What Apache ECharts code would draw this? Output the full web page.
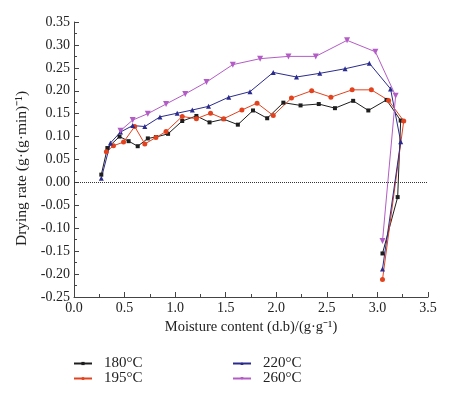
<!DOCTYPE html>
<html>
<head>
<meta charset="utf-8">
<script src="https://cdn.jsdelivr.net/npm/echarts@6/dist/echarts.min.js"></script>
<style>
  html, body { margin: 0; padding: 0; background: #fff; }
</style>
</head>
<body>
<div id="main" style="width: 474px;height: 399px;"></div>
<script>
// moisture content (x), drying rate (y), in the order the points are joined
var t180 = [[0.27,0.017],[0.33,0.075],[0.45,0.100],[0.54,0.090],[0.63,0.079],[0.73,0.096],[0.81,0.099],[0.93,0.106],[1.07,0.134],[1.21,0.145],[1.34,0.131],[1.48,0.138],[1.62,0.126],[1.77,0.157],[1.91,0.140],[2.07,0.174],[2.24,0.168],[2.42,0.171],[2.58,0.162],[2.76,0.178],[2.91,0.157],[3.09,0.180],[3.23,0.135],[3.20,-0.032],[3.05,-0.155]];
var t195 = [[0.32,0.067],[0.39,0.080],[0.49,0.088],[0.60,0.122],[0.70,0.084],[0.81,0.098],[0.91,0.111],[1.07,0.144],[1.21,0.139],[1.35,0.151],[1.48,0.139],[1.66,0.158],[1.81,0.173],[1.97,0.146],[2.15,0.184],[2.35,0.200],[2.54,0.186],[2.75,0.202],[2.94,0.202],[3.11,0.179],[3.26,0.134],[3.05,-0.212]];
var t220 = [[0.27,0.009],[0.36,0.086],[0.46,0.110],[0.58,0.124],[0.70,0.122],[0.85,0.143],[1.02,0.151],[1.17,0.158],[1.33,0.166],[1.53,0.186],[1.74,0.198],[1.97,0.240],[2.20,0.230],[2.43,0.238],[2.68,0.248],[2.92,0.260],[3.13,0.204],[3.23,0.089],[3.05,-0.189]];
var t260 = [[0.46,0.113],[0.58,0.136],[0.73,0.150],[0.91,0.171],[1.10,0.193],[1.31,0.219],[1.57,0.257],[1.84,0.270],[2.12,0.275],[2.39,0.275],[2.70,0.310],[2.98,0.285],[3.18,0.189],[3.05,-0.128]];

var names = ['180°C', '195°C', '220°C', '260°C'];
var xRange = [0, 3.5, 0.5];
var yRange = [-0.25, 0.35, 0.05];

var font = 'Liberation Serif';
var chartDom = document.getElementById('main');
var myChart = echarts.init(chartDom);
var option;

function line(name, data, color, symbol, rotate, size) {
  return {
    name: name,
    type: 'line',
    data: data,
    symbol: symbol,
    symbolSize: size,
    symbolRotate: rotate,
    lineStyle: { color: color, width: 1 },
    itemStyle: { color: color },
    animation: false
  };
}

var legendText = { fontFamily: font, fontSize: 15, color: '#222', padding: [0, 0, 0, 7] };

option = {
  backgroundColor: '#fff',
  grid: { left: 74, right: 46, top: 22, bottom: 102 },
  legend: [
    {
      data: [names[0], names[1]],
      orient: 'vertical', left: 68, top: 351, itemGap: 0,
      itemWidth: 18, itemHeight: 4,
      textStyle: legendText
    },
    {
      data: [names[2], names[3]],
      orient: 'vertical', left: 227, top: 351, itemGap: 0,
      itemWidth: 18, itemHeight: 4,
      textStyle: legendText
    }
  ],
  xAxis: {
    type: 'value',
    min: xRange[0], max: xRange[1], interval: xRange[2],
    name: 'Moisture content (d.b)/(g·g⁻¹)',
    nameLocation: 'middle', nameGap: 23,
    nameTextStyle: { fontFamily: font, fontSize: 14.5, color: '#222' },
    axisLine: { onZero: false, lineStyle: { color: '#444' } },
    axisTick: { inside: true, length: 5, lineStyle: { color: '#444' } },
    minorTick: { show: true, splitNumber: 2, length: 3, lineStyle: { color: '#444' } },
    axisLabel: { fontFamily: font, fontSize: 14, color: '#222', margin: 4,
      formatter: function (v) { return v.toFixed(1); } },
    splitLine: { show: false }
  },
  yAxis: {
    type: 'value',
    min: yRange[0], max: yRange[1], interval: yRange[2],
    name: 'Drying rate (g·(g·min)⁻¹)',
    nameLocation: 'middle', nameGap: 42,
    nameTextStyle: { fontFamily: font, fontSize: 15.5, color: '#222', padding: [0, 18, 0, 0] },
    axisLine: { show: true, lineStyle: { color: '#444' } },
    axisTick: { inside: true, length: 5, lineStyle: { color: '#444' } },
    minorTick: { show: true, splitNumber: 2, length: 3, lineStyle: { color: '#444' } },
    axisLabel: { fontFamily: font, fontSize: 14, color: '#222', margin: 4,
      formatter: function (v) { return v.toFixed(2); } },
    splitLine: { show: false }
  },
  series: [
    Object.assign(line(names[0], t180, '#1e1e1e', 'rect', 0, 4), {
      markLine: {
        silent: true, symbol: 'none', animation: false,
        label: { show: false },
        lineStyle: { type: 'dotted', color: '#333', width: 1 },
        data: [[{ coord: [xRange[0], 0] }, { coord: [xRange[1], 0] }]]
      }
    }),
    line(names[1], t195, '#e2431e', 'circle', 0, 5),
    line(names[2], t220, '#2b2b8e', 'triangle', 0, 5),
    line(names[3], t260, '#b45cc6', 'triangle', 180, 6)
  ]
};

option && myChart.setOption(option);
</script>
</body>
</html>
